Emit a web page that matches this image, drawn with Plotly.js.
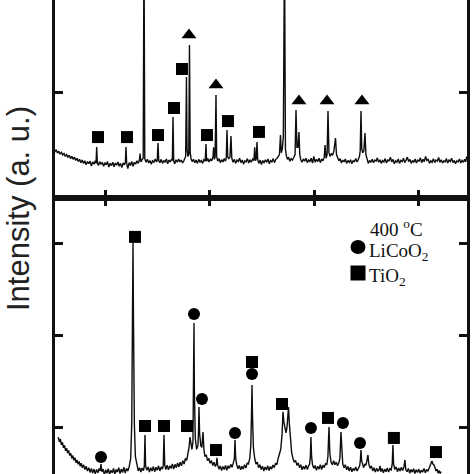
<!DOCTYPE html>
<html>
<head>
<meta charset="utf-8">
<script src="https://cdn.plot.ly/plotly-3.0.1.min.js"></script>
<style>
  html, body { margin: 0; padding: 0; background: #fff; overflow: hidden; }
  #chart { width: 474px; height: 474px; }
</style>
</head>
<body>
<div id="chart"></div>
<script>
// Upper pattern: [2-theta (deg), counts]
const upperScan = [
  [10.00,190],[10.25,176],[10.5,186],[10.75,168],[11.0,178],[11.25,162],[11.5,172],[11.75,158],[12.0,166],[12.25,150],
  [12.5,160],[12.75,146],[13.0,156],[13.25,138],[13.5,150],[13.75,134],[14.0,146],[14.25,128],[14.5,140],[14.75,122],
  [15.0,134],[15.25,116],[15.5,130],[15.75,112],[16.0,126],[16.25,104],[16.5,122],[16.75,110],[17.0,124],[17.25,98],
  [17.5,120],[17.75,108],[18.0,126],[18.15,112],[18.27,201],[18.4,114],[18.6,100],[18.85,122],[19.1,106],[19.35,118],
  [19.6,96],[19.85,116],[20.1,104],[20.35,122],[20.6,92],[20.85,112],[21.1,100],[21.35,118],[21.6,94],[21.85,114],
  [22.1,102],[22.35,120],[22.6,96],[22.85,112],[23.1,90],[23.35,114],[23.6,104],[23.78,120],[23.9,201],[24.02,112],
  [24.25,84],[24.5,116],[24.75,100],[25.0,122],[25.25,96],[25.5,118],[25.75,108],[26.0,126],[26.25,112],[26.5,134],
  [26.6,166],[26.75,120],[27.0,132],[27.2,140],[27.35,1300],[27.5,136],[27.75,118],[28.0,134],[28.25,114],[28.5,128],
  [28.75,108],[29.0,126],[29.25,118],[29.5,136],[29.75,120],[29.9,130],[30.04,223],[30.18,128],[30.4,116],[30.65,134],
  [30.9,112],[31.15,128],[31.4,118],[31.65,136],[31.9,110],[32.15,130],[32.4,120],[32.65,136],[32.8,128],[32.92,364],
  [33.05,126],[33.25,110],[33.5,132],[33.75,118],[34.0,136],[34.25,120],[34.5,130],[34.75,114],[35.0,126],[35.2,140],
  [35.35,150],[35.5,582],[35.62,190],[35.78,150],[35.95,160],[36.08,755],[36.22,170],[36.4,136],[36.6,122],[36.85,134],
  [37.1,116],[37.35,130],[37.6,112],[37.85,134],[38.1,120],[38.35,128],[38.6,112],[38.85,132],[39.1,124],[39.25,217],
  [39.38,124],[39.6,138],[39.85,120],[40.1,134],[40.35,126],[40.6,150],[40.72,200],[40.85,134],[41.0,146],[41.17,484],
  [41.3,150],[41.5,124],[41.75,138],[42.0,116],[42.25,132],[42.5,120],[42.75,138],[43.0,124],[43.15,144],[43.28,293],
  [43.42,150],[43.6,136],[43.85,146],[44.05,261],[44.2,140],[44.45,118],[44.7,134],[44.95,112],[45.2,130],[45.45,122],
  [45.7,140],[45.95,116],[46.2,130],[46.45,108],[46.7,126],[46.95,120],[47.2,138],[47.45,114],[47.7,132],[47.95,118],
  [48.2,136],[48.45,128],[48.6,200],[48.75,126],[48.9,138],[49.04,228],[49.18,132],[49.4,112],[49.65,130],[49.9,106],
  [50.15,128],[50.4,114],[50.65,132],[50.9,118],[51.15,136],[51.4,110],[51.65,128],[51.9,120],[52.15,138],[52.4,116],
  [52.65,134],[52.9,140],[53.15,152],[53.35,160],[53.55,266],[53.7,170],[53.9,190],[54.1,260],[54.32,1300],[54.5,190],
  [54.7,150],[54.9,134],[55.1,146],[55.35,124],[55.6,138],[55.85,130],[56.1,144],[56.35,160],[56.53,402],[56.7,200],
  [56.9,200],[57.1,283],[57.25,160],[57.45,132],[57.7,118],[57.95,136],[58.2,124],[58.45,140],[58.7,116],[58.95,130],
  [59.2,122],[59.45,140],[59.7,114],[59.95,150],[60.2,118],[60.45,134],[60.7,122],[60.95,140],[61.2,116],[61.45,136],
  [61.7,126],[61.95,146],[62.1,212],[62.3,140],[62.5,160],[62.67,397],[62.85,170],[63.05,150],[63.3,166],[63.55,156],
  [63.8,180],[64.11,250],[64.3,160],[64.5,140],[64.75,126],[65.0,138],[65.25,114],[65.5,130],[65.75,120],[66.0,136],
  [66.25,112],[66.5,128],[66.75,118],[67.0,132],[67.25,110],[67.5,126],[67.75,122],[68.0,138],[68.25,120],[68.5,134],
  [68.7,150],[68.85,180],[69.0,397],[69.15,190],[69.35,170],[69.55,180],[69.77,277],[69.95,160],[70.15,130],[70.4,112],
  [70.65,128],[70.9,118],[71.15,134],[71.4,116],[71.65,130],[71.9,124],[72.15,142],[72.4,118],[72.65,132],[72.9,112],
  [73.15,128],[73.4,120],[73.65,138],[73.9,114],[74.15,130],[74.4,126],[74.65,146],[74.9,120],[75.15,134],[75.4,110],
  [75.65,126],[75.9,118],[76.15,136],[76.4,112],[76.65,128],[76.9,122],[77.15,140],[77.4,116],[77.65,130],[77.9,146],
  [78.15,122],[78.4,134],[78.65,112],[78.9,128],[79.15,118],[79.4,136],[79.65,114],[79.9,130],[80.15,124],[80.4,142],
  [80.65,116],[80.9,134],[81.15,122],[81.4,150],[81.65,128],[81.9,134],[82.15,112],[82.4,126],[82.65,118],[82.9,138],
  [83.15,116],[83.4,130],[83.65,124],[83.9,144],[84.15,118],[84.4,132],[84.65,114],[84.9,126],[85.15,120],[85.4,138],
  [85.65,114],[85.9,130],[86.15,122],[86.4,140],[86.65,116],[86.9,128],[87.15,110],[87.4,126],[87.65,120],[87.9,136],
  [88.15,114],[88.4,128],[88.65,118],[88.9,134],[89.1,120],[89.3,150]
];

// Lower pattern (400 ºC): [2-theta (deg), counts]
const lowerScan = [
  [10.9,447],[11.1,420],[11.3,436],[11.5,404],[11.7,418],[11.9,388],[12.1,402],[12.3,372],[12.5,386],[12.7,360],
  [12.9,374],[13.1,346],[13.3,358],[13.5,330],[13.7,346],[13.9,320],[14.1,334],[14.3,306],[14.5,322],[14.7,298],
  [14.9,314],[15.1,288],[15.3,304],[15.5,280],[15.75,296],[16.0,270],[16.25,288],[16.5,262],[16.75,280],[17.0,254],
  [17.25,276],[17.5,250],[17.75,272],[18.0,246],[18.25,270],[18.5,252],[18.75,276],[18.95,262],[19.1,300],[19.25,258],
  [19.5,272],[19.75,240],[20.0,268],[20.25,250],[20.5,274],[20.75,242],[21.0,266],[21.25,252],[21.5,276],[21.75,244],
  [22.0,270],[22.25,256],[22.5,280],[22.75,248],[23.0,272],[23.25,254],[23.5,282],[23.75,250],[24.0,276],[24.25,262],
  [24.5,284],[24.8,330],[25.0,520],[25.15,1100],[25.24,1505],[25.33,1100],[25.5,520],[25.7,340],[26.0,286],[26.25,262],
  [26.5,280],[26.75,256],[27.0,278],[27.25,264],[27.42,290],[27.54,458],[27.66,290],[27.9,266],[28.15,284],[28.4,256],
  [28.65,280],[28.9,262],[29.15,286],[29.4,258],[29.65,282],[29.9,266],[30.15,290],[30.4,262],[30.65,284],[30.9,272],
  [31.05,292],[31.19,458],[31.33,296],[31.55,270],[31.8,294],[32.05,268],[32.3,290],[32.55,276],[32.8,300],[33.05,272],
  [33.3,298],[33.55,280],[33.8,306],[34.05,284],[34.3,310],[34.55,290],[34.8,318],[35.05,300],[35.3,330],[35.55,320],
  [35.8,360],[36.0,390],[36.18,447],[36.35,400],[36.55,380],[36.75,420],[36.88,700],[36.95,1069],[37.02,700],[37.2,440],
  [37.45,380],[37.7,400],[37.82,480],[37.91,611],[38.02,470],[38.25,400],[38.45,390],[38.68,474],[38.85,380],[39.05,340],
  [39.3,350],[39.55,318],[39.8,330],[40.05,304],[40.3,318],[40.55,292],[40.8,310],[41.05,286],[41.25,300],[41.36,333],
  [41.5,292],[41.75,272],[42.0,290],[42.25,264],[42.5,286],[42.75,270],[43.0,292],[43.25,266],[43.5,290],[43.75,276],
  [44.0,298],[44.25,282],[44.5,306],[44.7,330],[44.82,431],[44.95,330],[45.15,296],[45.4,274],[45.65,292],[45.9,268],
  [46.15,288],[46.4,272],[46.65,296],[46.9,278],[47.15,304],[47.4,300],[47.65,330],[47.85,400],[47.98,560],[48.08,731],
  [48.18,560],[48.35,390],[48.6,330],[48.85,300],[49.1,310],[49.35,280],[49.6,296],[49.85,270],[50.1,288],[50.35,262],
  [50.6,284],[50.85,268],[51.1,290],[51.35,264],[51.6,286],[51.85,272],[52.1,294],[52.35,280],[52.6,304],[52.85,296],
  [53.1,330],[53.35,350],[53.6,380],[53.85,460],[54.03,584],[54.2,530],[54.4,500],[54.6,470],[54.8,500],[54.95,560],
  [55.09,611],[55.25,520],[55.45,420],[55.7,360],[55.95,330],[56.2,310],[56.45,320],[56.7,292],[56.95,306],[57.2,280],
  [57.45,296],[57.7,268],[57.95,288],[58.2,272],[58.45,294],[58.7,270],[58.95,290],[59.15,300],[59.28,340],[59.4,447],
  [59.52,340],[59.7,296],[59.95,276],[60.2,292],[60.45,266],[60.7,288],[60.95,272],[61.2,296],[61.45,270],[61.7,294],
  [61.95,280],[62.2,302],[62.45,296],[62.65,340],[62.86,502],[63.02,360],[63.25,310],[63.5,296],[63.75,318],[64.0,296],
  [64.25,310],[64.5,290],[64.75,306],[64.95,330],[65.16,474],[65.3,350],[65.5,300],[65.75,280],[66.0,296],[66.25,268],
  [66.5,286],[66.75,262],[67.0,282],[67.25,258],[67.5,276],[67.75,264],[68.0,284],[68.25,262],[68.5,278],[68.75,290],
  [68.88,320],[69.0,376],[69.12,320],[69.3,296],[69.5,280],[69.75,300],[69.95,292],[70.15,320],[70.34,349],[70.5,300],
  [70.75,276],[71.0,290],[71.25,262],[71.5,280],[71.75,256],[72.0,276],[72.25,262],[72.5,270],[72.65,290],[72.8,258],
  [73.05,276],[73.3,252],[73.55,272],[73.8,258],[74.05,278],[74.3,256],[74.55,274],[74.8,268],[75.0,300],[75.13,404],
  [75.26,300],[75.5,270],[75.75,284],[76.0,258],[76.25,278],[76.5,262],[76.75,282],[77.0,264],[77.25,284],[77.44,322],
  [77.6,270],[77.85,258],[78.1,276],[78.35,250],[78.6,270],[78.85,256],[79.1,274],[79.35,248],[79.6,268],[79.85,254],
  [80.1,272],[80.35,250],[80.6,266],[80.85,256],[81.1,276],[81.35,252],[81.6,270],[81.85,260],[82.1,280],[82.35,290],
  [82.5,300],[82.62,316],[82.8,300],[83.0,296],[83.2,280],[83.4,262],[83.6,272],[83.8,250],[84.0,264],[84.2,248],
  [84.4,258]
];

// Phase markers, upper pattern (squares and rutile triangles)
const upperSquareTheta  = [18.52, 24.09, 30.04, 33.11, 34.64, 39.44, 43.47, 49.42];
const upperSquareLevel  = [255, 255, 266, 413, 625, 266, 342, 283];
const upperTriangleTheta = [35.99, 41.17, 57.10, 62.48, 69.19];
const upperTriangleLevel = [810, 538, 451, 451, 451];

// Phase markers, lower pattern (LiCoO2 circles, TiO2 squares)
const licooTheta = [19.10, 36.95, 38.48, 44.82, 48.08, 59.40, 65.54, 68.81];
const licooLevel = [338, 1118, 654, 469, 791, 496, 524, 415];
const tio2Theta  = [25.62, 27.54, 31.19, 35.60, 41.17, 48.08, 53.84, 62.67, 75.32, 83.39];
const tio2Level  = [1538, 507, 507, 507, 376, 856, 627, 551, 442, 365];

const thetaTicks = [20, 40, 60, 80];
const lowerTicks = [500, 1000, 1500];
const upperTicks = [500];

const INK = '#111';
const col = (arr, i) => arr.map(p => p[i]);

const traces = [
  { x: col(upperScan, 0), y: col(upperScan, 1), xaxis: 'x2', yaxis: 'y2', mode: 'lines',
    line: { color: '#0d0d0d', width: 1.4 }, showlegend: false, hoverinfo: 'skip' },
  { x: upperSquareTheta, y: upperSquareLevel, xaxis: 'x2', yaxis: 'y2', mode: 'markers',
    marker: { symbol: 'square', size: 12, color: '#000' }, showlegend: false },
  { x: upperTriangleTheta, y: upperTriangleLevel, xaxis: 'x2', yaxis: 'y2', mode: 'markers',
    marker: { symbol: 'triangle-up', size: 13, color: '#000' }, showlegend: false },
  { x: col(lowerScan, 0), y: col(lowerScan, 1), xaxis: 'x', yaxis: 'y', mode: 'lines',
    line: { color: '#0d0d0d', width: 1.4 }, showlegend: false, hoverinfo: 'skip' },
  { x: licooTheta, y: licooLevel, xaxis: 'x', yaxis: 'y', mode: 'markers',
    marker: { symbol: 'circle', size: 12, color: '#000' }, showlegend: false },
  { x: tio2Theta, y: tio2Level, xaxis: 'x', yaxis: 'y', mode: 'markers',
    marker: { symbol: 'square', size: 12, color: '#000' }, showlegend: false }
];

const xCommon = {
  range: [10.27, 89.35], showline: true, linewidth: 3, linecolor: INK,
  ticks: 'inside', ticklen: 8, tickwidth: 3, tickcolor: INK,
  tickvals: thetaTicks, showticklabels: false, showgrid: false, zeroline: false
};
const yCommon = {
  showline: true, mirror: 'ticks', linewidth: 3, linecolor: INK,
  ticks: 'inside', ticklen: 8, tickwidth: 3, tickcolor: INK,
  showticklabels: false, showgrid: false, zeroline: false
};

const split = 276 / 474;
const px = v => (v - 55) / 412;      // horizontal pixel -> paper
const py = v => (474 - v) / 474;     // vertical pixel -> paper
const serif = { family: 'Liberation Serif, Times New Roman, serif', size: 19, color: INK };

const layout = {
  width: 474, height: 474,
  margin: { l: 55, r: 7, t: 0, b: 0, pad: 0 },
  paper_bgcolor: '#fff', plot_bgcolor: '#fff',
  font: { family: 'Liberation Sans, Arial, sans-serif', color: INK },
  showlegend: false,
  xaxis: Object.assign({}, xCommon, { anchor: 'y', side: 'top', domain: [0, 1] }),
  xaxis2: Object.assign({}, xCommon, { anchor: 'y2', side: 'bottom', domain: [0, 1], matches: 'x' }),
  yaxis: Object.assign({}, yCommon, { domain: [0, split], range: [245.4, 1750], tickvals: lowerTicks, anchor: 'x' }),
  yaxis2: Object.assign({}, yCommon, { domain: [split, 1], range: [-76.1, 1000], tickvals: upperTicks, anchor: 'x2' }),
  annotations: [
    { text: 'Intensity (a. u.)', xref: 'paper', yref: 'paper', x: px(18), y: py(209),
      xanchor: 'center', yanchor: 'middle', textangle: -90, showarrow: false,
      font: { family: 'Liberation Sans, Arial, sans-serif', size: 31, color: '#222' } },
    { text: '400 <sup>o</sup>C', xref: 'paper', yref: 'paper', x: px(368), y: py(228),
      xanchor: 'left', yanchor: 'middle', showarrow: false, font: serif },
    { text: 'LiCoO<sub>2</sub>', xref: 'paper', yref: 'paper', x: px(367), y: py(252),
      xanchor: 'left', yanchor: 'middle', showarrow: false, font: serif },
    { text: 'TiO<sub>2</sub>', xref: 'paper', yref: 'paper', x: px(367), y: py(277),
      xanchor: 'left', yanchor: 'middle', showarrow: false, font: serif }
  ],
  shapes: [
    { type: 'circle', xref: 'paper', yref: 'paper', xsizemode: 'pixel', ysizemode: 'pixel',
      xanchor: px(358), yanchor: py(247), x0: -7.5, x1: 7.5, y0: -7, y1: 7,
      fillcolor: '#000', line: { width: 0 } },
    { type: 'rect', xref: 'paper', yref: 'paper', xsizemode: 'pixel', ysizemode: 'pixel',
      xanchor: px(358), yanchor: py(273), x0: -7.5, x1: 7.5, y0: -7.5, y1: 7.5,
      fillcolor: '#000', line: { width: 0 } }
  ]
};

Plotly.newPlot('chart', traces, layout, { staticPlot: true, displayModeBar: false });
</script>
</body>
</html>
